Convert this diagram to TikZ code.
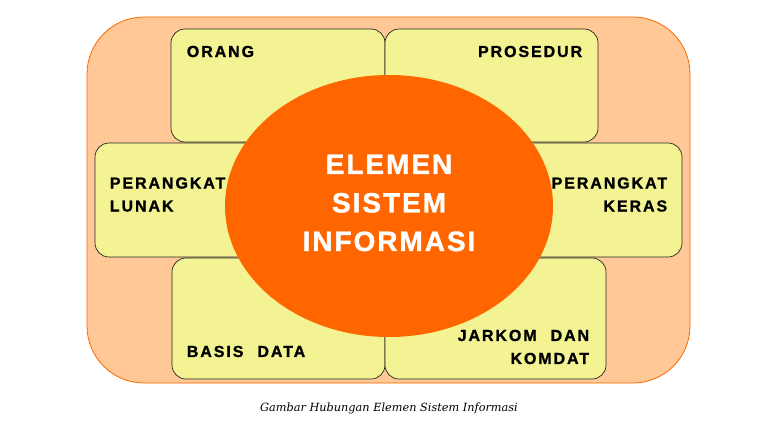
\documentclass[tikz,border=0pt]{standalone}
\usepackage{fontspec}
\setmainfont{Liberation Serif}
\setsansfont{Liberation Sans}
\newfontfamily\lblfont[LetterSpace=12, FakeBold=1.2, WordSpace=2.2]{Liberation Sans}
\newfontfamily\bigfont[LetterSpace=7, FakeBold=1.2]{Liberation Sans}
\newfontfamily\capfont{DejaVu Serif}
\usepackage{tikz}
\usetikzlibrary{calc, shapes.geometric}
\definecolor{peach}{HTML}{FFC896}
\definecolor{sibox}{HTML}{F3F394}
\definecolor{siorange}{HTML}{FF6600}

\begin{document}
\begin{tikzpicture}[%
x=1pt, y=-1pt,
outer/.style={draw=siorange, fill=peach, line width=0.8pt, rounded corners=57pt,
    minimum width=603pt, minimum height=366pt},
elbox/.style={draw=black!85, fill=sibox, line width=0.7pt, rounded corners=14pt},
lbl/.style={inner sep=0pt, font={\lblfont\bfseries\fontsize{16}{23}\selectfont}}]
\useasboundingbox (0,0) rectangle (778,420);
\node[outer] (frame) at (388.5,200) {};
% the six elements
\node[elbox, minimum width=214pt, minimum height=113pt] (orang) at (278,85.5) {};
\node[elbox, minimum width=213pt, minimum height=113pt] (prosedur) at (491.5,85.5) {};
\node[elbox, minimum width=290pt, minimum height=114pt] (lunak) at (240,200) {};
\node[elbox, minimum width=297pt, minimum height=114pt] (keras) at (533.5,200) {};
\node[elbox, minimum width=213pt, minimum height=121pt] (basis) at (278.5,318.5) {};
\node[elbox, minimum width=221pt, minimum height=121pt] (jarkom) at (495.5,318.5) {};
\node[lbl, anchor=north west] (orangtxt) at ($(orang.north west)+(16,17)$) {ORANG};
\node[lbl, anchor=north east] (prosedurtxt) at ($(prosedur.north east)+(-16,17)$) {PROSEDUR};
\node[lbl, anchor=north west, align=left] (lunaktxt) at ($(lunak.north west)+(15,34.5)$) {PERANGKAT\\LUNAK};
\node[lbl, anchor=north east, align=right] (kerastxt) at ($(keras.north east)+(-15,34.5)$) {PERANGKAT\\KERAS};
\node[lbl, anchor=south west] (basistxt) at ($(basis.south west)+(15,-22)$) {BASIS DATA};
\node[lbl, anchor=south east, align=right] (jarkomtxt) at ($(jarkom.south east)+(-17,-15)$) {JARKOM DAN\\KOMDAT};
% centre
\node[ellipse, fill=siorange, inner sep=0pt, minimum width=328pt, minimum height=262pt] (elemen) at (389,206) {};
\node[inner sep=0pt, text=white, align=center,
    font={\bigfont\bfseries\fontsize{28}{38.5}\selectfont}] (elementxt) at (389,203) {ELEMEN\\SISTEM\\INFORMASI};
\node[inner sep=0pt, font={\capfont\itshape\fontsize{11.3}{14}\selectfont}] (caption) at (389,408) {Gambar Hubungan Elemen Sistem Informasi};
\end{tikzpicture}
\end{document}
